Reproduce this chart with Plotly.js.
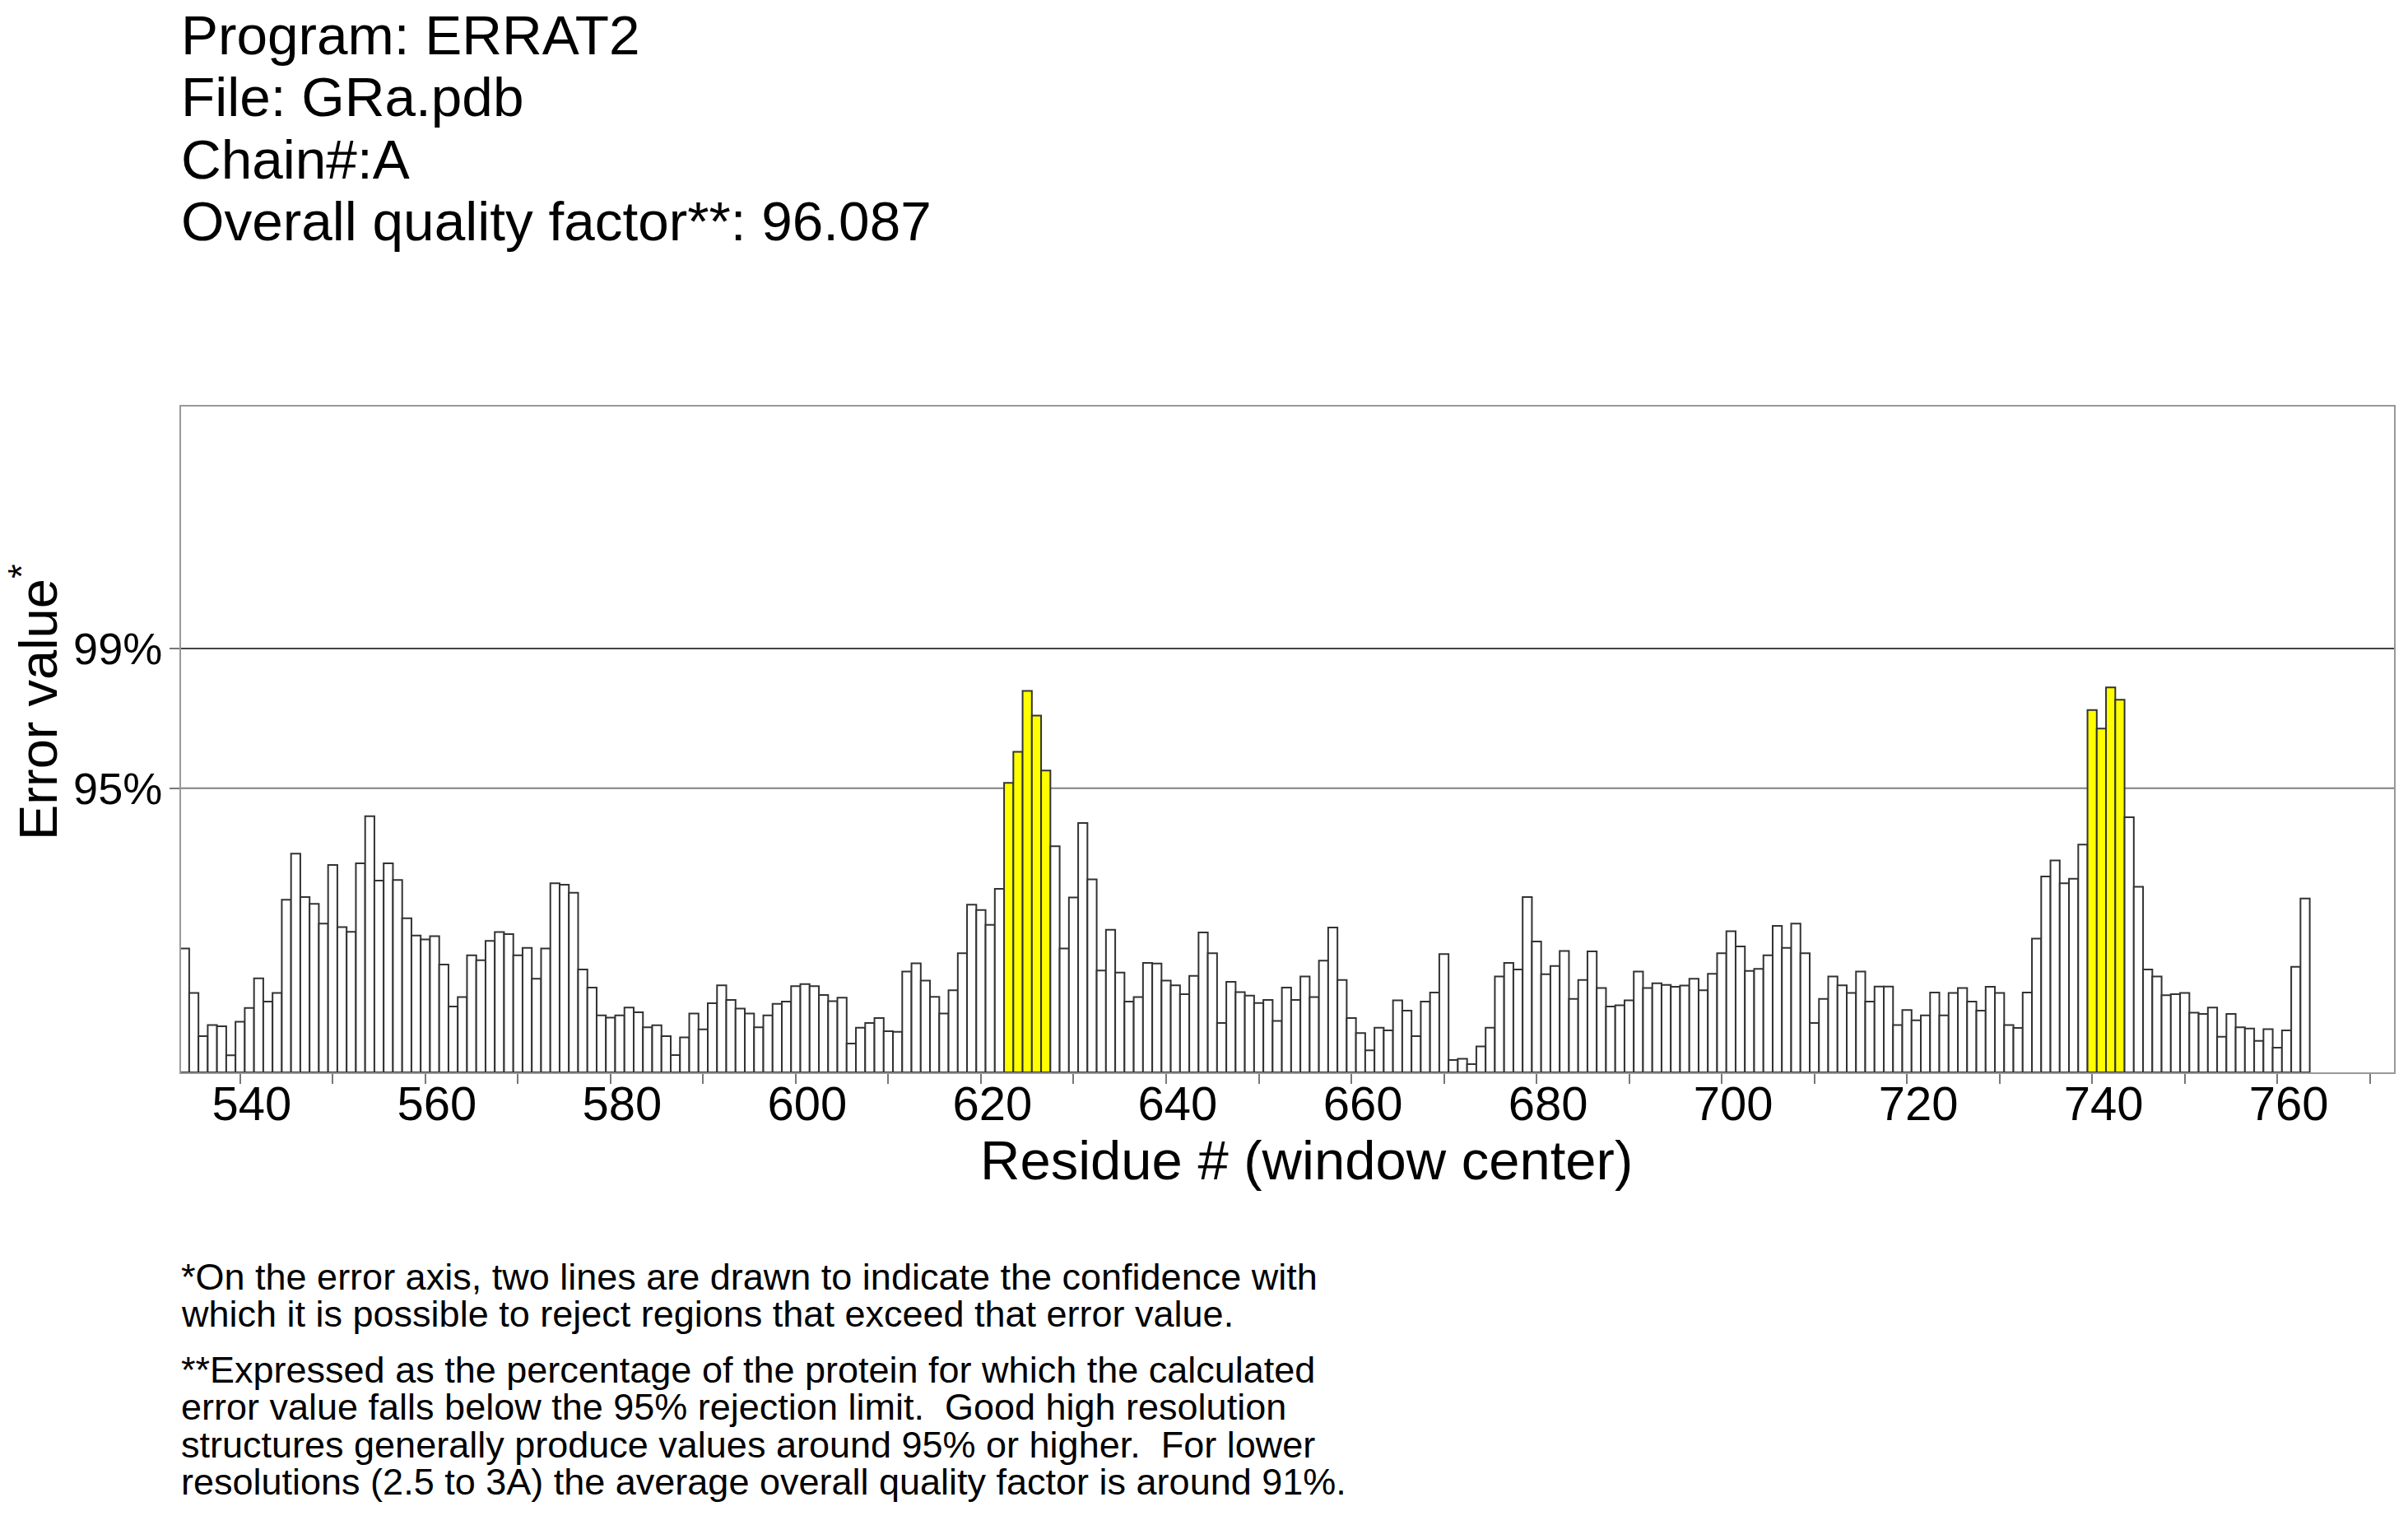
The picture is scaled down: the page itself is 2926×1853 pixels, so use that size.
<!DOCTYPE html>
<html>
<head>
<meta charset="utf-8">
<script src="https://cdn.plot.ly/plotly-3.0.1.min.js"></script>
<style>html,body{margin:0;padding:0;background:#fff;}#chart{width:2926px;height:1853px;}</style>
</head>
<body>
<div id="chart"></div>
<script>
// Residue numbers (window centers)
var residues = [
534,535,536,537,538,539,540,541,542,543,544,545,546,547,548,549,550,551,552,553,
554,555,556,557,558,559,560,561,562,563,564,565,566,567,568,569,570,571,572,573,
574,575,576,577,578,579,580,581,582,583,584,585,586,587,588,589,590,591,592,593,
594,595,596,597,598,599,600,601,602,603,604,605,606,607,608,609,610,611,612,613,
614,615,616,617,618,619,620,621,622,623,624,625,626,627,628,629,630,631,632,633,
634,635,636,637,638,639,640,641,642,643,644,645,646,647,648,649,650,651,652,653,
654,655,656,657,658,659,660,661,662,663,664,665,666,667,668,669,670,671,672,673,
674,675,676,677,678,679,680,681,682,683,684,685,686,687,688,689,690,691,692,693,
694,695,696,697,698,699,700,701,702,703,704,705,706,707,708,709,710,711,712,713,
714,715,716,717,718,719,720,721,722,723,724,725,726,727,728,729,730,731,732,733,
734,735,736,737,738,739,740,741,742,743,744,745,746,747,748,749,750,751,752,753,
754,755,756,757,758,759,760,761,762,763];

// Error values, in segments
var errors534_573 = [5.02,3.22,1.47,1.92,1.87,0.69,2.05,2.61,3.81,2.87,
  3.22,7.00,8.87,7.11,6.83,6.03,8.41,5.89,5.70,8.48,
  10.39,7.78,8.48,7.80,6.25,5.55,5.39,5.52,4.37,2.67,
  3.05,4.75,4.55,5.33,5.69,5.61,4.75,5.05,3.80,5.02];
var errors574_613 = [7.67,7.61,7.28,4.17,3.44,2.31,2.22,2.31,2.63,2.44,
  1.83,1.91,1.47,0.70,1.42,2.39,1.74,2.80,3.53,2.94,
  2.59,2.39,1.83,2.31,2.78,2.87,3.50,3.58,3.50,3.14,
  2.89,3.03,1.17,1.81,2.00,2.20,1.67,1.64,4.09,4.42];
var errors614_653 = [3.72,3.06,2.39,3.33,4.83,6.80,6.58,5.98,7.44,11.74,
  13.00,15.47,14.47,12.24,9.17,5.02,7.09,10.11,7.83,4.13,
  5.78,4.05,2.87,3.05,4.44,4.41,3.72,3.53,3.17,3.91,
  5.67,4.83,2.00,3.67,3.25,3.11,2.81,2.94,2.09,3.44];
var errors654_693 = [2.94,3.89,3.05,4.53,5.87,3.75,2.20,1.59,0.89,1.81,
  1.70,2.92,2.50,1.47,2.87,3.24,4.80,0.50,0.55,0.33,
  1.05,1.81,3.89,4.44,4.17,7.11,5.31,3.98,4.31,4.92,
  2.98,3.75,4.91,3.42,2.67,2.72,2.92,4.09,3.42,3.61];
var errors694_733 = [3.55,3.47,3.52,3.80,3.33,4.00,4.83,5.72,5.11,4.11,
  4.20,4.75,5.94,5.05,6.03,4.83,2.00,2.98,3.89,3.53,
  3.22,4.09,2.87,3.48,3.48,1.92,2.53,2.11,2.31,3.24,
  2.31,3.22,3.42,2.87,2.50,3.47,3.22,1.92,1.80,3.24];
var errors734_763 = [5.42,7.94,8.59,7.67,7.85,9.24,14.69,13.94,15.61,15.11,
  10.35,7.53,4.17,3.89,3.13,3.17,3.22,2.42,2.37,2.63,
  1.44,2.37,1.83,1.78,1.28,1.75,1.00,1.70,4.28,7.05];

// Rejection limits (ERRAT error value)
var limit95 = 11.526;
var limit99 = 17.190;
var limitLabels = ['95%', '99%'];

// Axis ticks
var xTickVals = [540,560,580,600,620,640,660,680,700,720,740,760];
var xTickText = ['540','560','580','600','620','640','660','680','700','720','740','760'];
var xMinorTickVals = [530,550,570,590,610,630,650,670,690,710,730,750,770];

var headerLines = ['Program: ERRAT2', 'File: GRa.pdb', 'Chain#:A', 'Overall quality factor**: 96.087'];
var footLines = [
  '*On the error axis, two lines are drawn to indicate the confidence with',
  'which it is possible to reject regions that exceed that error value.',
  '**Expressed as the percentage of the protein for which the calculated',
  'error value falls below the 95% rejection limit.&nbsp; Good high resolution',
  'structures generally produce values around 95% or higher.&nbsp; For lower',
  'resolutions (2.5 to 3A) the average overall quality factor is around 91%.'
];

var errors = [].concat(errors534_573, errors574_613, errors614_653, errors654_693, errors694_733, errors734_763);
var colors = errors.map(function(v){ return v > limit99 ? '#FF0000' : (v > limit95 ? '#FFFF00' : '#FFFFFF'); });

var W = 2926, H = 1853;
var M = {l:220, r:17, t:494, b:550};
var PW = W - M.l - M.r, PH = H - M.t - M.b;
function px2x(px){ return (px - M.l) / PW; }
function px2y(py){ return (H - M.b - py) / PH; }

var FONT = 'Liberation Sans, Arial, Helvetica, sans-serif';
var annotations = [];
var headerY = [42, 117, 193, 268];
headerLines.forEach(function(t, i){
  annotations.push({text:t, xref:'paper', yref:'paper', x:px2x(218), y:px2y(headerY[i]),
    xanchor:'left', yanchor:'middle', showarrow:false, font:{family:FONT, size:67.5, color:'#000'}});
});
var footY = [1551, 1596, 1664, 1709, 1755, 1800];
footLines.forEach(function(t, i){
  annotations.push({text:t, xref:'paper', yref:'paper', x:px2x(218), y:px2y(footY[i]),
    xanchor:'left', yanchor:'middle', showarrow:false, font:{family:FONT, size:45, color:'#000'}});
});
annotations.push({text:'Residue # (window center)', xref:'paper', yref:'paper', x:px2x(1587), y:px2y(1409),
  xanchor:'center', yanchor:'middle', showarrow:false, font:{family:FONT, size:67, color:'#000'}});
annotations.push({text:'Error value<sup>*</sup>', xref:'paper', yref:'paper', x:px2x(42), y:px2y(853),
  xanchor:'center', yanchor:'middle', textangle:-90, showarrow:false, font:{family:FONT, size:65, color:'#000'}});

var trace = {
  type:'bar', x:residues, y:errors, width:1,
  marker:{color:colors, line:{color:'#333333', width:2}},
  hoverinfo:'x+y'
};

var layout = {
  width:W, height:H,
  margin:{l:M.l, r:M.r, t:M.t, b:M.b, pad:0},
  paper_bgcolor:'#fff', plot_bgcolor:'#fff',
  showlegend:false, bargap:0,
  font:{family:FONT, color:'#000'},
  xaxis:{range:[533.62, 772.6], tickmode:'array', tickvals:xTickVals, ticktext:xTickText,
    ticks:'outside', ticklen:12, tickwidth:2, tickcolor:'#777',
    minor:{tickmode:'array', tickvals:xMinorTickVals, ticks:'outside', ticklen:12, tickwidth:2, tickcolor:'#777', showgrid:false},
    showline:true, linecolor:'#999', linewidth:2, mirror:true,
    showgrid:false, zeroline:false, ticklabelshift:14, ticklabelstandoff:-26,
    tickfont:{family:FONT, size:58, color:'#000'}},
  yaxis:{range:[0, 27], tickmode:'array', tickvals:[limit95, limit99], ticktext:limitLabels,
    ticks:'outside', ticklen:12, tickwidth:2, tickcolor:'#777',
    showline:true, linecolor:'#999', linewidth:2, mirror:true,
    showgrid:false, zeroline:false, ticklabelstandoff:-2,
    tickfont:{family:FONT, size:54, color:'#000'}},
  shapes:[
    {type:'line', xref:'paper', yref:'y', x0:0, x1:1, y0:limit95, y1:limit95, line:{color:'#808080', width:2}, layer:'below'},
    {type:'line', xref:'paper', yref:'y', x0:0, x1:1, y0:limit99, y1:limit99, line:{color:'#444', width:2}, layer:'below'}
  ],
  annotations:annotations
};

Plotly.newPlot('chart', [trace], layout, {staticPlot:true, displayModeBar:false});
</script>
</body>
</html>
